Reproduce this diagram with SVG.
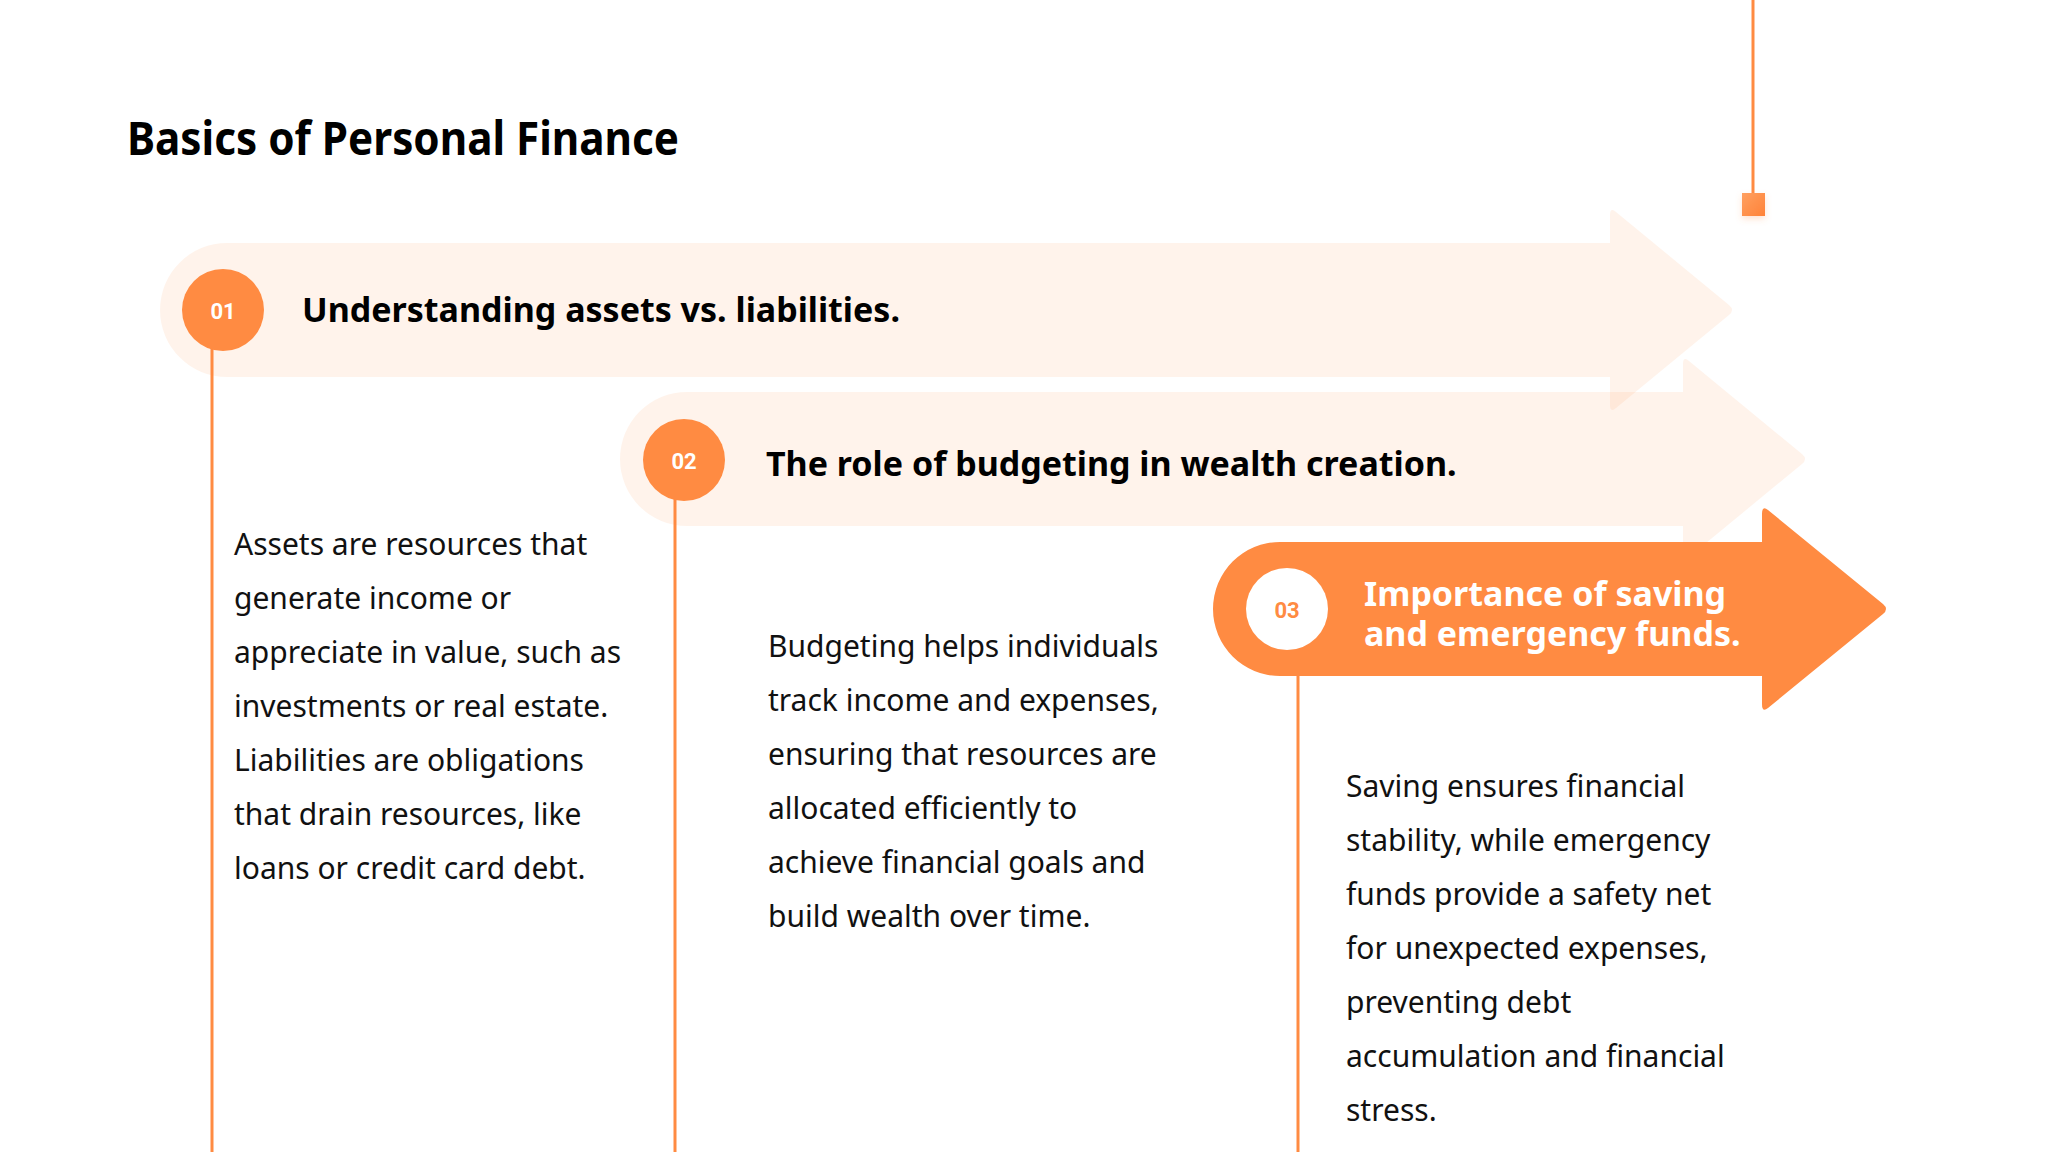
<svg xmlns="http://www.w3.org/2000/svg" width="2048" height="1152" viewBox="0 0 2048 1152">
  <defs>
    <style>
      .title { font-family: "Noto Sans", "Open Sans", sans-serif; font-weight: 700; font-size: 47px; fill: #000; }
      .head { font-family: "Noto Sans", "Open Sans", sans-serif; font-weight: 700; font-size: 34px; fill: #000; }
      .head3 { font-family: "Noto Sans", "Open Sans", sans-serif; font-weight: 700; font-size: 34px; fill: #fff; }
      .body { font-family: "Noto Sans", "Open Sans", sans-serif; font-size: 30px; fill: #111; }
      .num { font-family: Roboto, "Liberation Sans", sans-serif; font-weight: 700; font-size: 22px; text-anchor: middle; }
      .light { fill: #FF8A3D; fill-opacity: 0.1; }
      .solid { fill: #FF8B42; }
      .conn { stroke: #FF8B42; stroke-width: 3; fill: none; }
    </style>
    <linearGradient id="sq" x1="0" y1="0" x2="1" y2="1">
      <stop offset="0" stop-color="#FFA060"/>
      <stop offset="1" stop-color="#FF8238"/>
    </linearGradient>
    <filter id="sh" x="-50%" y="-50%" width="200%" height="200%">
      <feDropShadow dx="0" dy="3" stdDeviation="3" flood-color="#FF8B42" flood-opacity="0.25"/>
    </filter>
  </defs>
  <rect width="2048" height="1152" fill="#fff"/>

  <text class="title" x="127" y="155" textLength="552" lengthAdjust="spacingAndGlyphs">Basics of Personal Finance</text>

  <g id="connectors">
    <line class="conn" x1="1753" y1="0" x2="1753" y2="195"/>
    <line class="conn" x1="212" y1="330" x2="212" y2="1152"/>
    <line class="conn" x1="675" y1="480" x2="675" y2="1152"/>
    <line class="conn" x1="1298" y1="660" x2="1298" y2="1152"/>
  </g>

  <g id="marker-square">
    <rect x="1742" y="193" width="23" height="23" fill="url(#sq)" filter="url(#sh)"/>
  </g>

  <g id="step1">
    <path class="light" d="M 227 243 L 1610 243 L 1610 215 Q 1610 207 1616 212 L 1729 305 Q 1735 310 1729 315 L 1616 408 Q 1610 413 1610 405 L 1610 377 L 227 377 A 67 67 0 0 1 227 243 Z"/>
    <circle class="solid" cx="223" cy="310" r="41"/>
    <text class="num" x="223" y="319" fill="#fff">01</text>
    <text class="head" x="302" y="322">Understanding assets vs. liabilities.</text>
    <text class="body">
      <tspan x="234" y="555">Assets are resources that</tspan>
      <tspan x="234" y="609">generate income or</tspan>
      <tspan x="234" y="663">appreciate in value, such as</tspan>
      <tspan x="234" y="717">investments or real estate.</tspan>
      <tspan x="234" y="771">Liabilities are obligations</tspan>
      <tspan x="234" y="825">that drain resources, like</tspan>
      <tspan x="234" y="879">loans or credit card debt.</tspan>
    </text>
  </g>

  <g id="step2">
    <path class="light" d="M 687 392 L 1683 392 L 1683 364 Q 1683 356 1689 361 L 1802 454 Q 1808 459 1802 464 L 1689 557 Q 1683 562 1683 554 L 1683 526 L 687 526 A 67 67 0 0 1 687 392 Z"/>
    <circle class="solid" cx="684" cy="460" r="41"/>
    <text class="num" x="684" y="469" fill="#fff">02</text>
    <text class="head" x="766" y="476">The role of budgeting in wealth creation.</text>
    <text class="body">
      <tspan x="768" y="657">Budgeting helps individuals</tspan>
      <tspan x="768" y="711">track income and expenses,</tspan>
      <tspan x="768" y="765">ensuring that resources are</tspan>
      <tspan x="768" y="819">allocated efficiently to</tspan>
      <tspan x="768" y="873">achieve financial goals and</tspan>
      <tspan x="768" y="927">build wealth over time.</tspan>
    </text>
  </g>

  <g id="step3">
    <path class="solid" d="M 1280 542 L 1762 542 L 1762 514 Q 1762 505 1768 510 L 1883 604 Q 1889 609 1883 614 L 1768 708 Q 1762 713 1762 704 L 1762 676 L 1280 676 A 67 67 0 0 1 1280 542 Z"/>
    <circle cx="1287" cy="609" r="41" fill="#fff"/>
    <text class="num" x="1287" y="618" fill="#FF8B42">03</text>
    <text class="head3">
      <tspan x="1364" y="606">Importance of saving</tspan>
      <tspan x="1364" y="646">and emergency funds.</tspan>
    </text>
    <text class="body">
      <tspan x="1346" y="797">Saving ensures financial</tspan>
      <tspan x="1346" y="851">stability, while emergency</tspan>
      <tspan x="1346" y="905">funds provide a safety net</tspan>
      <tspan x="1346" y="959">for unexpected expenses,</tspan>
      <tspan x="1346" y="1013">preventing debt</tspan>
      <tspan x="1346" y="1067">accumulation and financial</tspan>
      <tspan x="1346" y="1121">stress.</tspan>
    </text>
  </g>
</svg>
